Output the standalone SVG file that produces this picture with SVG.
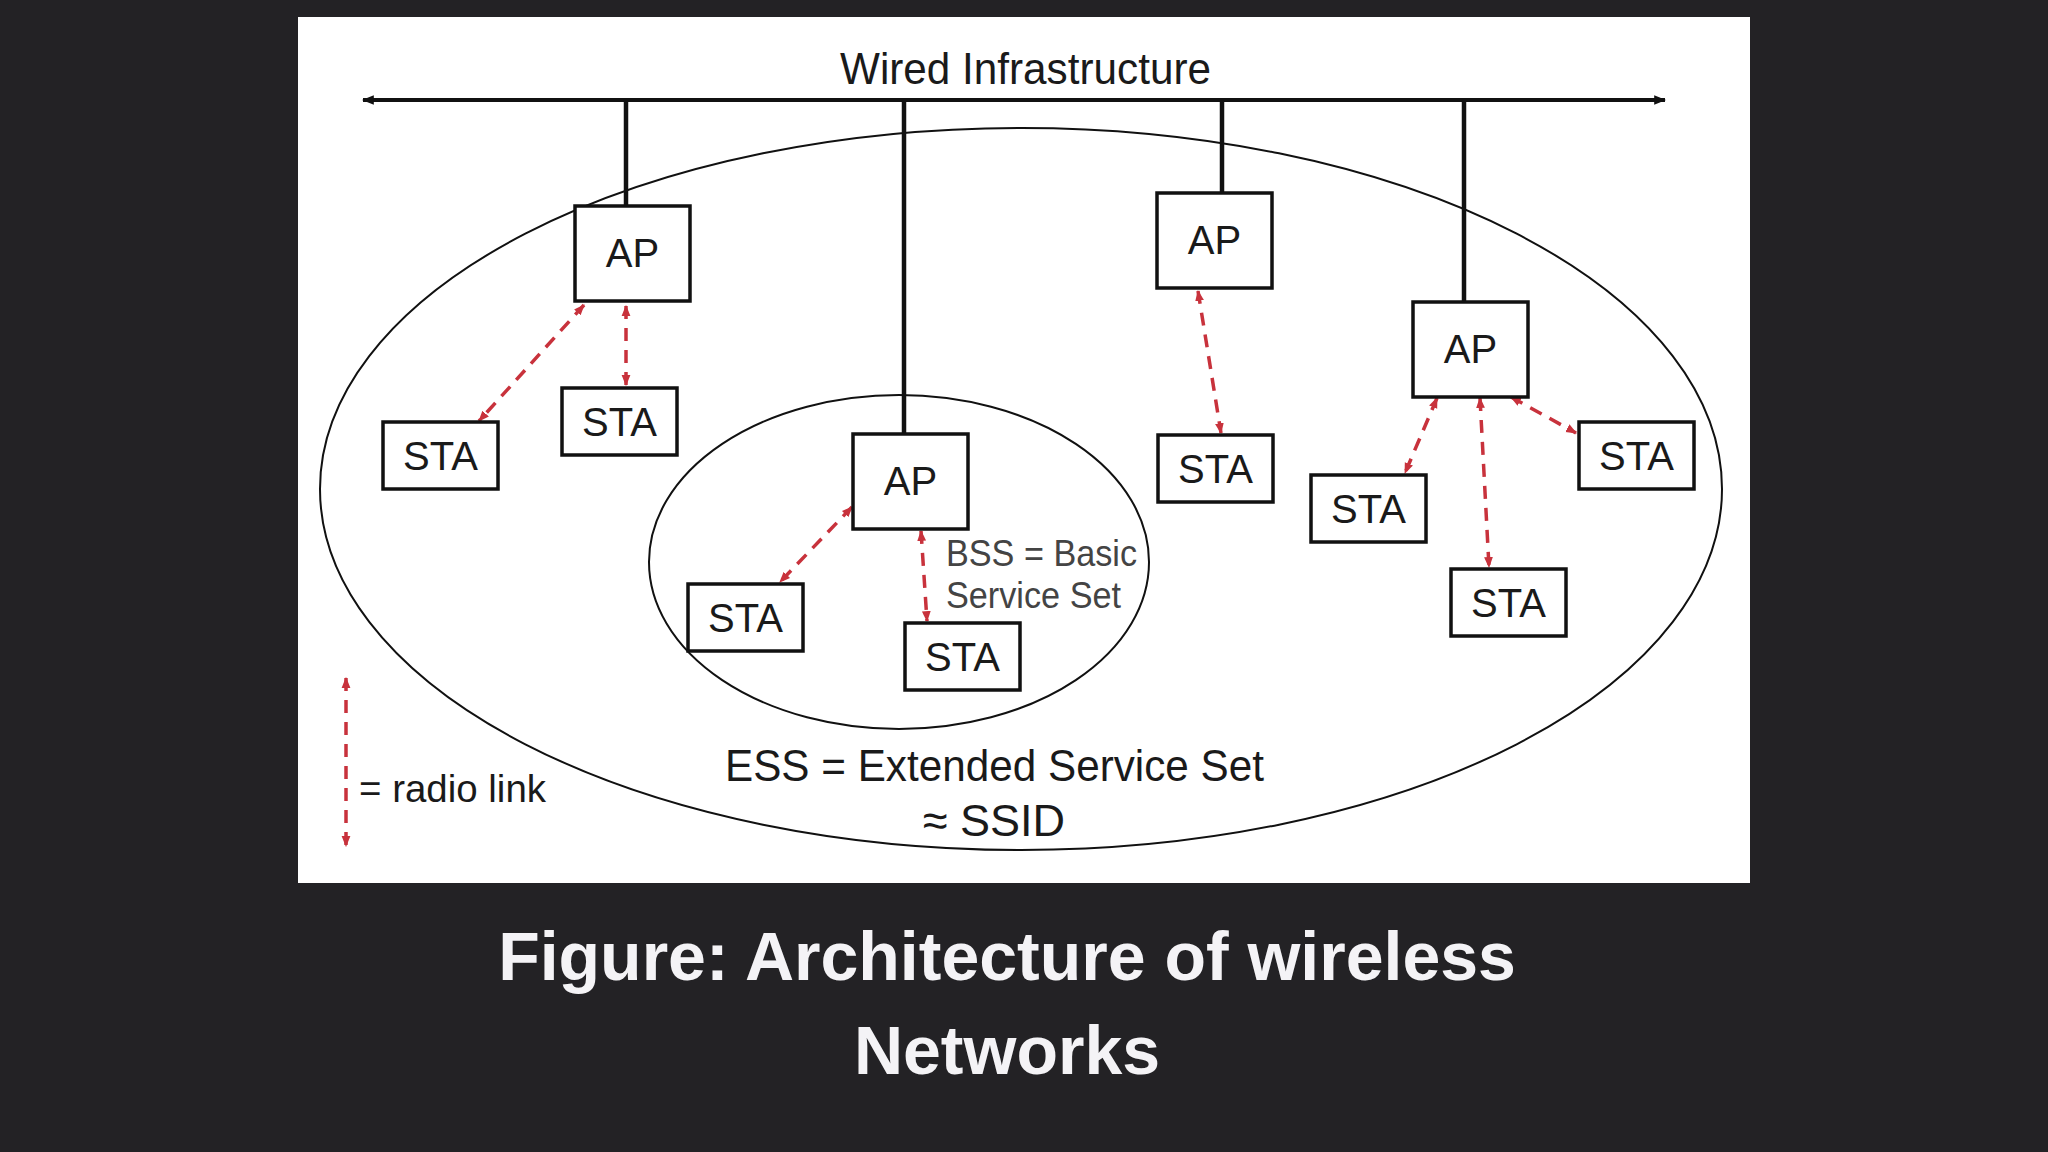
<svg xmlns="http://www.w3.org/2000/svg" width="2048" height="1152" viewBox="0 0 2048 1152">
<defs>
<style>
.box{fill:#fff;stroke:#111;stroke-width:3.5}
.lbl{font-family:"Liberation Sans",Arial,sans-serif;font-size:40px;fill:#1a1a1a;text-anchor:middle}
.wire{stroke:#111;stroke-width:4.5;fill:none}
.radio{stroke:#c8323c;stroke-width:3.5;stroke-dasharray:13 9;fill:none;marker-start:url(#ra);marker-end:url(#ra)}
.ell{fill:none;stroke:#111;stroke-width:2}
.note{font-family:"Liberation Sans",Arial,sans-serif;fill:#1a1a1a}
.title{font-family:"Liberation Sans",Arial,sans-serif;font-weight:bold;font-size:68px;fill:#f4f3f6;text-anchor:middle}
</style>
<marker id="ra" viewBox="0 0 10 10" refX="9" refY="5" markerWidth="11" markerHeight="11" markerUnits="userSpaceOnUse" orient="auto-start-reverse">
<path d="M0,1 L10,5 L0,9 z" fill="#c8323c"/>
</marker>
<marker id="ba" viewBox="0 0 10 10" refX="9" refY="5" markerWidth="12" markerHeight="12" markerUnits="userSpaceOnUse" orient="auto-start-reverse">
<path d="M0,1 L10,5 L0,9 z" fill="#111"/>
</marker>
</defs>
<rect width="2048" height="1152" fill="#232225"/>
<rect x="298" y="17" width="1452" height="866" fill="#fff"/>

<g id="ess">
<ellipse class="ell" cx="1021" cy="489" rx="701" ry="361"/>
</g>
<g id="bss">
<ellipse class="ell" cx="899" cy="562" rx="250" ry="167"/>
</g>

<g id="connectors">
<line class="wire" x1="363" y1="100" x2="1665" y2="100" style="stroke-width:4;marker-start:url(#ba);marker-end:url(#ba)"/>
<line class="wire" x1="626" y1="100" x2="626" y2="206"/>
<line class="wire" x1="904" y1="100" x2="904" y2="434"/>
<line class="wire" x1="1222" y1="100" x2="1222" y2="193"/>
<line class="wire" x1="1464" y1="100" x2="1464" y2="302"/>
<line class="radio" x1="584" y1="305" x2="479" y2="421"/>
<line class="radio" x1="626" y1="306" x2="626" y2="385"/>
<line class="radio" x1="852" y1="507" x2="780" y2="582"/>
<line class="radio" x1="921" y1="531" x2="927" y2="621"/>
<line class="radio" x1="1198" y1="291" x2="1221" y2="433"/>
<line class="radio" x1="1437" y1="398" x2="1405" y2="473"/>
<line class="radio" x1="1480" y1="398" x2="1489" y2="567"/>
<line class="radio" x1="1511" y1="397" x2="1576" y2="433"/>
</g>

<g id="ap1"><rect class="box" x="575" y="206" width="115" height="95"/><text class="lbl" x="632.5" y="267">AP</text></g>
<g id="ap2"><rect class="box" x="1157" y="193" width="115" height="95"/><text class="lbl" x="1214.5" y="254">AP</text></g>
<g id="ap3"><rect class="box" x="853" y="434" width="115" height="95"/><text class="lbl" x="910.5" y="495">AP</text></g>
<g id="ap4"><rect class="box" x="1413" y="302" width="115" height="95"/><text class="lbl" x="1470.5" y="363">AP</text></g>

<g id="sta1"><rect class="box" x="383" y="422" width="115" height="67"/><text class="lbl" x="440.5" y="470">STA</text></g>
<g id="sta2"><rect class="box" x="562" y="388" width="115" height="67"/><text class="lbl" x="619.5" y="436">STA</text></g>
<g id="sta3"><rect class="box" x="688" y="584" width="115" height="67"/><text class="lbl" x="745.5" y="632">STA</text></g>
<g id="sta4"><rect class="box" x="905" y="623" width="115" height="67"/><text class="lbl" x="962.5" y="671">STA</text></g>
<g id="sta5"><rect class="box" x="1158" y="435" width="115" height="67"/><text class="lbl" x="1215.5" y="483">STA</text></g>
<g id="sta6"><rect class="box" x="1311" y="475" width="115" height="67"/><text class="lbl" x="1368.5" y="523">STA</text></g>
<g id="sta7"><rect class="box" x="1451" y="569" width="115" height="67"/><text class="lbl" x="1508.5" y="617">STA</text></g>
<g id="sta8"><rect class="box" x="1579" y="422" width="115" height="67"/><text class="lbl" x="1636.5" y="470">STA</text></g>

<g id="labels">
<text class="note" x="840" y="84" font-size="44" textLength="371" lengthAdjust="spacingAndGlyphs">Wired Infrastructure</text>
<text class="note" x="946" y="566" font-size="36" fill="#444" style="fill:#444" textLength="191" lengthAdjust="spacingAndGlyphs">BSS = Basic</text>
<text class="note" x="946" y="608" font-size="36" style="fill:#444" textLength="175" lengthAdjust="spacingAndGlyphs">Service Set</text>
<text class="note" x="725" y="781" font-size="45" textLength="539" lengthAdjust="spacingAndGlyphs">ESS = Extended Service Set</text>
<text class="note" x="994" y="836" font-size="45" text-anchor="middle">≈ SSID</text>
<text class="note" x="359" y="802" font-size="38" textLength="187" lengthAdjust="spacingAndGlyphs">= radio link</text>
</g>
<g id="legend">
<line class="radio" x1="346" y1="678" x2="346" y2="846"/>
</g>

<text class="title" x="1007" y="980">Figure: Architecture of wireless</text>
<text class="title" x="1007" y="1074">Networks</text>
</svg>
